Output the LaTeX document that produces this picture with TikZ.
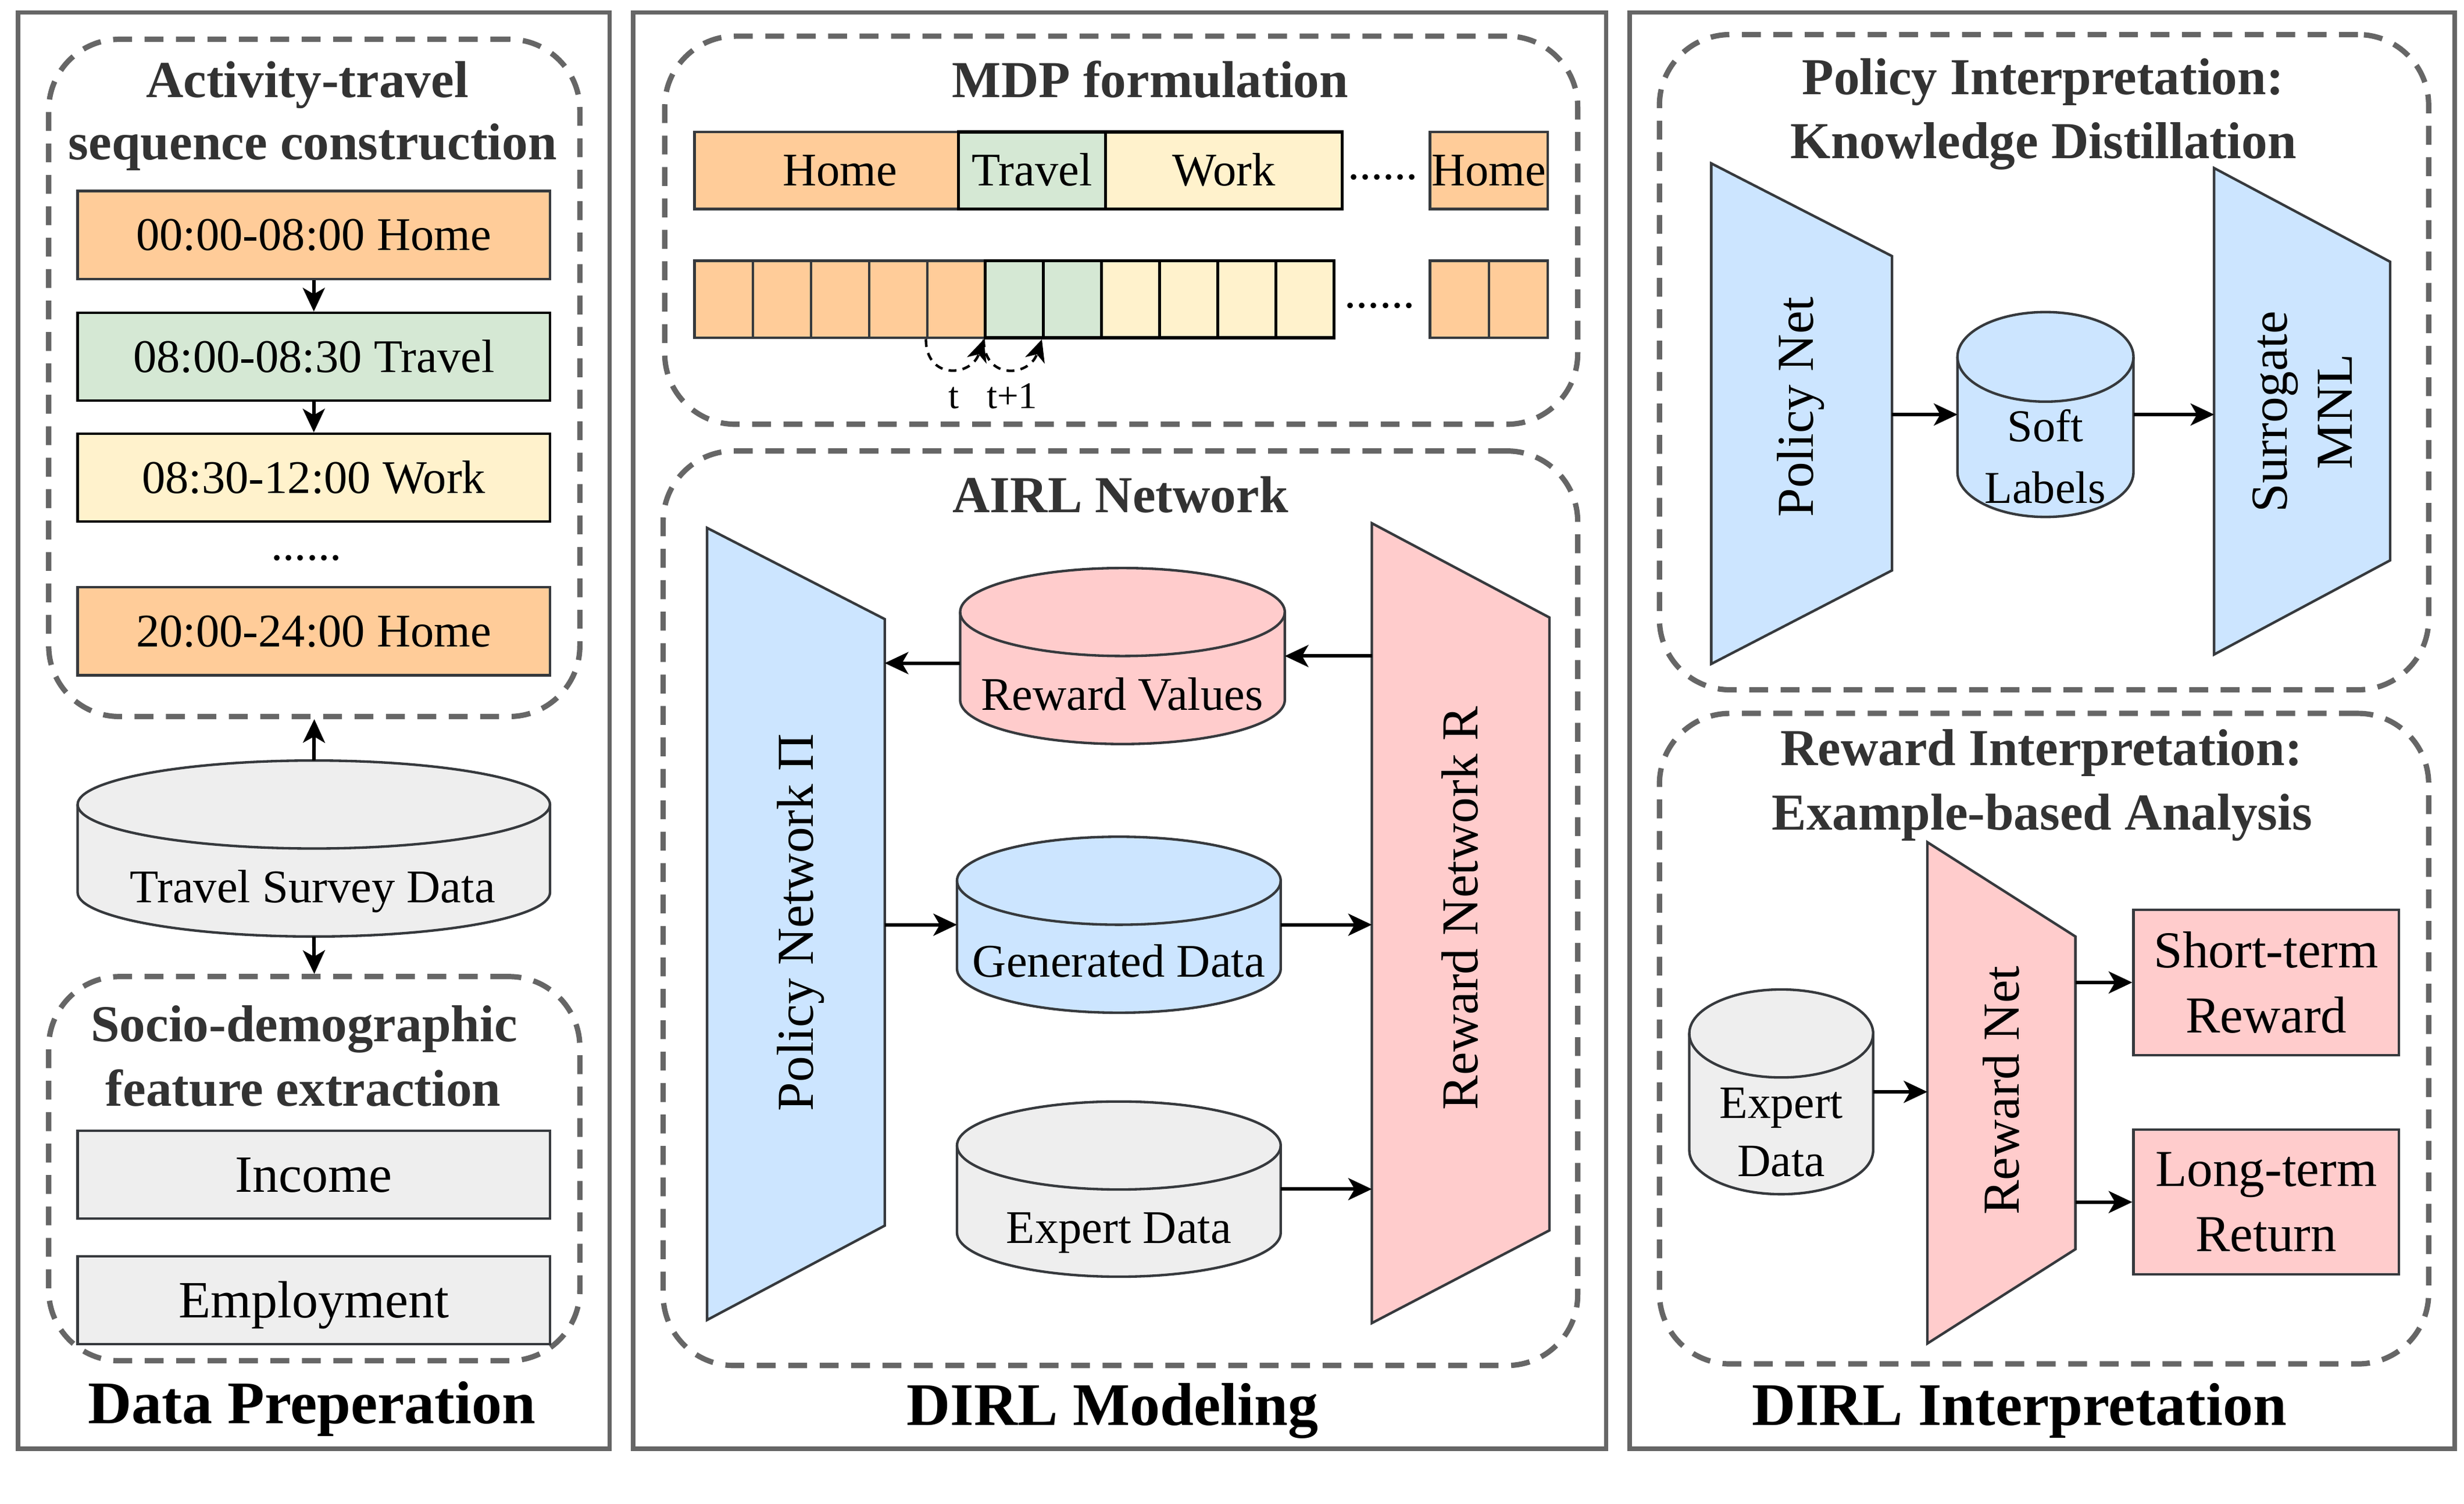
\documentclass[tikz,border=0pt]{standalone}
\usepackage{fontspec}
\setmainfont{Liberation Serif}
\usetikzlibrary{arrows.meta}
\definecolor{cOr}{HTML}{FFCC99}
\definecolor{cGr}{HTML}{D5E8D4}
\definecolor{cYe}{HTML}{FFF2CC}
\definecolor{cBl}{HTML}{CCE5FF}
\definecolor{cPk}{HTML}{FFCCCC}
\definecolor{cGy}{HTML}{EEEEEE}
\definecolor{cBd}{HTML}{36393D}
\definecolor{cPanel}{HTML}{666666}
\definecolor{cTitle}{HTML}{333333}
% name, cx, top, bottom, rx, ry, fill
\newcommand{\dbcyl}[7]{%
  \path[fill=#7] ({#2-#5},{#3+#6}) -- ({#2-#5},{#4-#6})
    arc[start angle=180,end angle=360,x radius=#5pt,y radius=#6pt]
    -- ({#2+#5},{#3+#6})
    arc[start angle=0,end angle=180,x radius=#5pt,y radius=#6pt] -- cycle;
  \draw[cylline] ({#2-#5},{#3+#6}) -- ({#2-#5},{#4-#6})
    arc[start angle=180,end angle=360,x radius=#5pt,y radius=#6pt]
    -- ({#2+#5},{#3+#6});
  \draw[cylline] (#2,{#3+#6}) ellipse[x radius=#5pt,y radius=#6pt];
  \node[inner sep=0pt, outer sep=0pt, minimum width={2*#5pt}, minimum height={(#4-#3)*1pt}] (#1) at (#2,{(#3+#4)/2}) {};
}
\begin{document}
\begin{tikzpicture}[x=1pt,y=-1pt,
  panel/.style={draw=cPanel, line width=2.8pt, inner sep=0pt},
  group/.style={draw=cPanel, line width=3.4pt, dash pattern=on 12pt off 8pt, rounded corners=45pt, inner sep=0pt},
  ttl/.style={inner sep=0pt, text=cTitle, font=\fontsize{33}{41}\selectfont\bfseries},
  ptitle/.style={inner sep=0pt, text=black, font=\fontsize{38.5}{46}\selectfont\bfseries},
  rtxt/.style={inner sep=0pt, font=\fontsize{29.8}{36}\selectfont, text height=19.7pt, text depth=0pt},
  seqbox/.style={draw=cBd, line width=1.6pt, inner sep=0pt, minimum width=300.6pt, minimum height=56pt, rtxt},
  featbox/.style={seqbox, font=\fontsize{33.3}{40}\selectfont, text height=22pt},
  cell/.style={draw=cBd, line width=1.6pt, inner sep=0pt, minimum height=49pt},
  cellk/.style={draw=black, line width=2pt, inner sep=0pt, minimum height=49pt},
  trap/.style={draw=cBd, line width=1.6pt, line join=miter},
  cylline/.style={draw=cBd, line width=1.6pt},
  rot/.style={inner sep=0pt, rotate=90, font=\fontsize{33}{41.5}\selectfont},
  rot1/.style={rot, text height=21.8pt, text depth=0pt},
  hold/.style={inner sep=0pt, outer sep=0pt},
  arr/.style={line width=2.2pt, -{Stealth[length=15pt,width=14pt,inset=4pt]}},
  darr/.style={line width=1.6pt, dash pattern=on 5pt off 4pt, -{Stealth[length=14pt,width=13pt,inset=4pt]}},
  bigtxt/.style={inner sep=0pt, align=center, font=\fontsize{33}{41.5}\selectfont},
  dots/.style={inner sep=0pt, anchor=base, font=\fontsize{29.8}{36}\selectfont},
]
\useasboundingbox (0,0) rectangle (1568,957);
\fill[white] (0,0) rectangle (1568,957);

% ---------------- Panel 1 ----------------
\node[panel, minimum width=376.5pt, minimum height=914pt] (p1) at (199.75,465) {};
\node[group, minimum width=338pt, minimum height=431pt] (g1) at (200,240.5) {};
\node[ttl, anchor=base] (g1a) at (195.5,62) {Activity-travel};
\node[ttl, anchor=base] (g1b) at (199,101.5) {sequence construction};
\node[seqbox, fill=cOr] (b1) at (199.7,149.5) {00:00-08:00 Home};
\node[seqbox, fill=cGr, draw=black] (b2) at (199.7,227) {08:00-08:30 Travel};
\node[seqbox, fill=cYe, draw=black] (b3) at (199.7,304) {08:30-12:00 Work};
\node[dots] (bd) at (195,356.5) {......};
\node[seqbox, fill=cOr] (b4) at (199.7,401.75) {20:00-24:00 Home};
\draw[arr] (b1.south) -- (b2.north);
\draw[arr] (b2.south) -- (b3.north);

\dbcyl{tsd}{199.7}{484}{596}{150.3}{28}{cGy}
\node[rtxt] (tsdt) at (199,564.5) {Travel Survey Data};

\node[group, minimum width=338pt, minimum height=244.5pt] (g2) at (200,743.75) {};
\node[ttl, anchor=base] (g2a) at (193.5,663) {Socio-demographic};
\node[ttl, anchor=base] (g2b) at (193,704) {feature extraction};
\node[featbox, fill=cGy] (inc) at (199.7,747.5) {Income};
\node[featbox, fill=cGy] (emp) at (199.7,827.5) {Employment};
\draw[arr] (tsd.north) -- (g1.south);
\draw[arr] (tsd.south) -- (g2.north);
\node[ptitle, anchor=base] (p1t) at (198.5,906) {Data Preperation};

% ---------------- Panel 2 ----------------
\node[panel, minimum width=619pt, minimum height=914pt] (p2) at (712.5,465) {};
\node[group, minimum width=581pt, minimum height=247pt] (gm) at (713.5,146.5) {};
\node[ttl, anchor=base] (gmt) at (732,62) {MDP formulation};
% row 1
\node[cell, fill=cOr, minimum width=168pt] (m1) at (526,108.5) {};
\node[rtxt] (m1t) at (534.5,108.5) {Home};
\node[cellk, fill=cGr, minimum width=93.6pt, rtxt] (m2) at (656.8,108.5) {Travel};
\node[cellk, fill=cYe, minimum width=150.4pt, rtxt] (m3) at (778.8,108.5) {Work};
\node[dots] (md1) at (880,114) {......};
\node[cell, fill=cOr, minimum width=75pt, rtxt] (m4) at (947.5,108.5) {Home};
% row 2
\foreach \i in {1,...,5}
  \node[cell, fill=cOr, minimum width=37pt] (c\i) at ({442+37*(\i-0.5)},190.5) {};
\foreach \i in {6,7}
  \node[cellk, fill=cGr, minimum width=37pt] (c\i) at ({442+37*(\i-0.5)},190.5) {};
\foreach \i in {8,...,11}
  \node[cellk, fill=cYe, minimum width=37pt] (c\i) at ({442+37*(\i-0.5)},190.5) {};
\node[dots] (md2) at (878,196) {......};
\node[cell, fill=cOr, minimum width=37.5pt] (r1) at (928.75,190.5) {};
\node[cell, fill=cOr, minimum width=37.5pt] (r2) at (966.25,190.5) {};
\draw[darr] (c5.south west) .. controls +(0,26) and +(-8,24) .. (c6.south west);
\draw[darr] (c6.south west) .. controls +(0,26) and +(-8,24) .. (c7.south west);
\node[inner sep=0pt, anchor=base, font=\fontsize{24}{30}\selectfont] (tl1) at (607,260) {t};
\node[inner sep=0pt, anchor=base, font=\fontsize{24}{30}\selectfont] (tl2) at (644,260) {t+1};

% AIRL
\node[group, minimum width=582pt, minimum height=582pt] (ga) at (713,578) {};
\node[ttl, anchor=base] (gat) at (713,326) {AIRL Network};
\draw[trap, fill=cBl] (450,336) -- (563,394) -- (563,780) -- (450,840) -- cycle;
\node[hold, minimum width=113pt, minimum height=504pt] (pn) at (506.5,588) {};
\node[rot1] (pnl) at (506.5,587) {Policy Network Π};
\draw[trap, fill=cPk] (873,333) -- (986,393) -- (986,783) -- (873,842) -- cycle;
\node[hold, minimum width=113pt, minimum height=509pt] (rn) at (929.5,587.5) {};
\node[rot1] (rnl) at (929.5,578) {Reward Network R};
\dbcyl{rv}{714.3}{361.5}{473.5}{103.3}{28}{cPk}
\node[rtxt] (rvt) at (714,442) {Reward Values};
\dbcyl{gd}{712}{532.5}{644.5}{103}{28}{cBl}
\node[rtxt] (gdt) at (712,612) {Generated Data};
\dbcyl{ed}{712}{701}{812.5}{103}{28}{cGy}
\node[rtxt] (edt) at (712,781.5) {Expert Data};
\draw[arr] (rn.west |- rv.east) -- (rv.east);
\draw[arr] ([yshift=-4.5pt]rv.west) -- ([yshift=-4.5pt]rv.west -| pn.east);
\draw[arr] (pn.east |- gd.west) -- (gd.west);
\draw[arr] (gd.east) -- (gd.east -| rn.west);
\draw[arr] (ed.east) -- (ed.east -| rn.west);
\node[ptitle, anchor=base] (p2t) at (708,907) {DIRL Modeling};

% ---------------- Panel 3 ----------------
\node[panel, minimum width=525pt, minimum height=914pt] (p3) at (1299.5,465) {};
\node[group, minimum width=489.5pt, minimum height=417pt] (gp) at (1300.75,230.5) {};
\node[ttl, anchor=base] (gpa) at (1300,60) {Policy Interpretation:};
\node[ttl, anchor=base] (gpb) at (1300.4,101) {Knowledge Distillation};
\draw[trap, fill=cBl] (1089,104) -- (1204,163) -- (1204,363) -- (1089,422.5) -- cycle;
\node[hold, minimum width=115pt, minimum height=318.5pt] (pnet) at (1146.5,263.25) {};
\node[rot1] (pnetl) at (1143,259) {Policy Net};
\dbcyl{sl}{1301.65}{198.6}{329}{56}{28.5}{cBl}
\node[bigtxt, font=\fontsize{29}{39}\selectfont] (slt) at (1301.5,290.5) {Soft\\Labels};
\draw[trap, fill=cBl] (1409,107) -- (1521,166.6) -- (1521,356.6) -- (1409,416.5) -- cycle;
\node[hold, minimum width=112pt, minimum height=309.5pt] (smnl) at (1465,261.75) {};
\node[rot, align=center] (smnll) at (1465,262) {Surrogate\\MNL};
\draw[arr] (pnet.east |- sl.west) -- (sl.west);
\draw[arr] (sl.east) -- (sl.east -| smnl.west);

\node[group, minimum width=489.5pt, minimum height=414pt] (gr) at (1300.75,661) {};
\node[ttl, anchor=base] (gra) at (1299,487) {Reward Interpretation:};
\node[ttl, anchor=base] (grb) at (1299.5,528) {Example-based Analysis};
\dbcyl{edb}{1133.5}{629.7}{760}{58.5}{28}{cGy}
\node[bigtxt, font=\fontsize{29.5}{37}\selectfont] (edbt) at (1133.5,720.5) {Expert\\Data};
\draw[trap, fill=cPk] (1226.5,536) -- (1320.7,596) -- (1320.7,795) -- (1226.5,855) -- cycle;
\node[hold, minimum width=94.2pt, minimum height=319pt] (rnet) at (1273.6,695.5) {};
\node[rot1] (rnetl) at (1274,694) {Reward Net};
\node[bigtxt, draw=cBd, fill=cPk, line width=1.6pt, minimum width=168.8pt, minimum height=92.5pt] (st) at (1442.1,625.25) {Short-term\\Reward};
\node[bigtxt, draw=cBd, fill=cPk, line width=1.6pt, minimum width=168.8pt, minimum height=92pt] (lg) at (1442.1,765) {Long-term\\Return};
\draw[arr] (edb.east) -- (edb.east -| rnet.west);
\draw[arr] (rnet.east |- st.west) -- (st.west);
\draw[arr] (rnet.east |- lg.west) -- (lg.west);
\node[ptitle, anchor=base] (p3t) at (1285,907) {DIRL Interpretation};
\end{tikzpicture}
\end{document}
